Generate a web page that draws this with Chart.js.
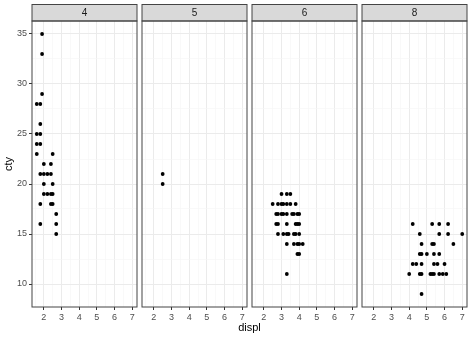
<!DOCTYPE html>
<html>
<head>
<meta charset="utf-8">
<script src="https://cdn.jsdelivr.net/npm/chart.js@4.4.1/dist/chart.umd.min.js"></script>
<style>
  body { margin: 0; background: #fff; }
  #wrap { position: relative; width: 474px; height: 338px; overflow: hidden; font-family: "Liberation Sans", Arial, sans-serif; }
  #wrap canvas { position: absolute; top: 0; }
  #xtitle { position: absolute; left: 0; width: 499px; top: 321px; text-align: center; font-size: 11px; color: #000; }
</style>
</head>
<body>
<div id="wrap">
  <canvas id="p4" width="139" height="338" style="left:0px"></canvas>
  <canvas id="p5" width="109" height="338" style="left:140px"></canvas>
  <canvas id="p6" width="109" height="338" style="left:250px"></canvas>
  <canvas id="p8" width="109" height="338" style="left:360px"></canvas>
  <div id="xtitle">displ</div>
</div>
<script>
// facet labels (number of cylinders)
const facetLabels = ['4', '5', '6', '8'];

// engine displacement / city mpg, one pair of arrays per facet
const displ4 = [1.9, 1.9, 1.9, 1.6, 1.8, 1.8, 1.6, 1.8, 1.6, 1.8, 1.6, 2.5, 2.0, 2.4,
                1.8, 2.0, 2.2, 2.4, 2.0, 2.5, 2.0, 2.2, 2.4, 2.5, 1.8, 2.4, 2.5, 2.7, 1.8, 2.7, 2.7];
const cty4   = [35, 33, 29, 28, 28, 26, 25, 25, 24, 24, 23, 23, 22, 22,
                21, 21, 21, 21, 20, 20, 19, 19, 19, 19, 18, 18, 18, 17, 16, 16, 15];

const displ5 = [2.5, 2.5];
const cty5   = [20, 21];

const displ6 = [3.0, 3.3, 3.5,
                2.5, 2.8, 3.0, 3.1, 3.3, 3.5, 3.8,
                2.7, 2.8, 3.0, 3.1, 3.3, 3.6, 3.7, 3.9, 4.0,
                2.7, 2.8, 3.3, 3.8, 3.9, 4.0,
                2.8, 3.1, 3.3, 3.4, 3.7, 3.8, 4.0,
                3.3, 3.7, 3.9, 4.0, 4.2,
                3.9, 4.0,
                3.3];
const cty6   = [19, 19, 19,
                18, 18, 18, 18, 18, 18, 18,
                17, 17, 17, 17, 17, 17, 17, 17, 17,
                16, 16, 16, 16, 16, 16,
                15, 15, 15, 15, 15, 15, 15,
                14, 14, 14, 14, 14,
                13, 13,
                11];

const displ8 = [4.2, 5.3, 5.7, 6.2,
                4.6, 5.7, 6.2, 7.0,
                4.7, 5.3, 5.4, 6.5,
                4.6, 4.7, 5.0, 5.4, 5.7,
                4.2, 4.4, 4.7, 5.4, 5.6, 6.0,
                4.0, 4.6, 4.7, 5.2, 5.3, 5.4, 5.7, 5.9, 6.1,
                4.7];
const cty8   = [16, 16, 16, 16,
                15, 15, 15, 15,
                14, 14, 14, 14,
                13, 13, 13, 13, 13,
                12, 12, 12, 12, 12, 12,
                11, 11, 11, 11, 11, 11, 11, 11, 11,
                9];

// axis breaks (majors labelled, minors only get a light grid line)
const xTicks = [1.5, 2, 2.5, 3, 3.5, 4, 4.5, 5, 5.5, 6, 6.5, 7];
const yTicks = [10, 12.5, 15, 17.5, 20, 22.5, 25, 27.5, 30, 32.5, 35];
const xRange = [1.33, 7.27];
const yRange = [7.7, 36.3];

const isMajorX = v => Math.abs(v - Math.round(v)) < 1e-6;
const isMajorY = v => Math.abs(v / 5 - Math.round(v / 5)) < 1e-6;

// grey strip on top + dark frame round the panel
const facetFrame = {
  id: 'facetFrame',
  afterDraw(chart, args, opts) {
    const { ctx, chartArea: a } = chart;
    ctx.save();
    ctx.fillStyle = '#d9d9d9';
    ctx.fillRect(a.left, 4.5, a.right - a.left, a.top - 4.5);
    ctx.strokeStyle = '#444';
    ctx.lineWidth = 1;
    ctx.strokeRect(a.left, 4.5, a.right - a.left, a.top - 4.5);
    ctx.strokeRect(a.left, a.top, a.right - a.left, a.bottom - a.top);
    ctx.fillStyle = '#1a1a1a';
    ctx.font = '10px "Liberation Sans", Arial, sans-serif';
    ctx.textAlign = 'center';
    ctx.textBaseline = 'middle';
    ctx.fillText(opts.label, (a.left + a.right) / 2, (4.5 + a.top) / 2 + 0.5);
    ctx.restore();
  }
};

function makePanel(id, xs, ys, label, showY) {
  const pts = xs.map((x, i) => ({ x: x, y: ys[i] }));
  new Chart(document.getElementById(id), {
    type: 'scatter',
    data: {
      datasets: [{
        data: pts,
        backgroundColor: '#000',
        borderWidth: 0,
        pointRadius: 1.9,
        pointHoverRadius: 1.9
      }]
    },
    options: {
      responsive: false,
      animation: false,
      events: [],
      layout: { padding: { top: 21, bottom: 0, left: showY ? 0 : 2, right: 2 } },
      plugins: {
        legend: { display: false },
        tooltip: { enabled: false },
        facetFrame: { label: label }
      },
      scales: {
        x: {
          type: 'linear',
          min: xRange[0],
          max: xRange[1],
          afterBuildTicks: s => { s.ticks = xTicks.map(v => ({ value: v })); },
          afterFit: s => { s.height = 31; },
          border: { display: false },
          grid: {
            color: c => isMajorX(c.tick.value) ? '#ebebeb' : '#f5f5f5',
            lineWidth: c => isMajorX(c.tick.value) ? 1 : 0.6,
            tickColor: c => isMajorX(c.tick.value) ? '#333' : 'rgba(0,0,0,0)',
            tickLength: 3
          },
          ticks: {
            autoSkip: false,
            maxRotation: 0,
            padding: 2,
            color: '#4d4d4d',
            font: { size: 9, family: '"Liberation Sans", Arial, sans-serif' },
            callback: v => isMajorX(v) ? String(v) : ''
          }
        },
        y: {
          type: 'linear',
          min: yRange[0],
          max: yRange[1],
          afterBuildTicks: s => { s.ticks = yTicks.map(v => ({ value: v })); },
          afterFit: s => { s.width = showY ? 32 : 0; },
          border: { display: false },
          grid: {
            color: c => isMajorY(c.tick.value) ? '#ebebeb' : '#f5f5f5',
            lineWidth: c => isMajorY(c.tick.value) ? 1 : 0.6,
            tickColor: c => isMajorY(c.tick.value) ? '#333' : 'rgba(0,0,0,0)',
            drawTicks: showY,
            tickLength: 3
          },
          ticks: {
            display: showY,
            padding: 2,
            color: '#4d4d4d',
            font: { size: 9, family: '"Liberation Sans", Arial, sans-serif' },
            callback: v => isMajorY(v) ? String(v) : ''
          },
          title: {
            display: showY,
            text: 'cty',
            color: '#000',
            padding: { top: 2, bottom: 2 },
            font: { size: 11, family: '"Liberation Sans", Arial, sans-serif' }
          }
        }
      }
    },
    plugins: [facetFrame]
  });
}

makePanel('p4', displ4, cty4, facetLabels[0], true);
makePanel('p5', displ5, cty5, facetLabels[1], false);
makePanel('p6', displ6, cty6, facetLabels[2], false);
makePanel('p8', displ8, cty8, facetLabels[3], false);
</script>
</body>
</html>
